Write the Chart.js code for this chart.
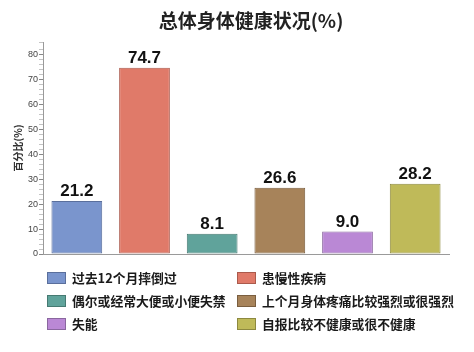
<!DOCTYPE html>
<html>
<head>
<meta charset="utf-8">
<script src="https://cdn.jsdelivr.net/npm/chart.js@4/dist/chart.umd.min.js"></script>
<style>
  html, body { margin: 0; padding: 0; background: #fff; }
  #chart { display: block; }
</style>
</head>
<body>
<canvas id="chart" width="474" height="352"></canvas>
<script>
const chartTitle = '总体身体健康状况(%)';
const yTitle = '百分比(%)';
const categories = ['过去12个月摔倒过', '患慢性疾病', '偶尔或经常大便或小便失禁', '上个月身体疼痛比较强烈或很强烈', '失能', '自报比较不健康或很不健康'];
const values = [21.2, 74.7, 8.1, 26.6, 9.0, 28.2];
const fillColours = ['#7a95cd', '#e07a69', '#60a39b', '#a7835a', '#ba88d5', '#bfba59'];
const borderColours = ['#5a6f9c', '#ab5a4c', '#467a72', '#7a5e3f', '#8a679f', '#8d893f'];

const cjk = '"Noto Sans CJK SC", "Noto Sans", sans-serif';
const latin = '"Liberation Sans", Arial, sans-serif';

// title centred over the plot rather than the canvas
const titlePlugin = {
    id: 'titleOverPlot',
    afterDraw(chart) {
        const ctx = chart.ctx;
        ctx.save();
        ctx.font = 'bold 19px ' + cjk;
        ctx.fillStyle = '#222';
        ctx.textAlign = 'center';
        ctx.textBaseline = 'middle';
        ctx.fillText(chartTitle, 251, 21);
        ctx.restore();
    },
};

const valueLabels = {
    id: 'valueLabels',
    afterDatasetsDraw(chart) {
        const ctx = chart.ctx;
        const meta = chart.getDatasetMeta(0);
        ctx.save();
        ctx.font = 'bold 17px ' + latin;
        ctx.fillStyle = '#111';
        ctx.textAlign = 'center';
        ctx.textBaseline = 'alphabetic';
        meta.data.forEach((bar, i) => {
            ctx.fillText(values[i].toFixed(1), bar.x, bar.y - 5);
        });
        ctx.restore();
    },
};

// two column legend under the plot
const gridLegend = {
    id: 'gridLegend',
    afterDraw(chart) {
        const ctx = chart.ctx;
        ctx.save();
        ctx.font = 'bold 12.8px ' + cjk;
        ctx.textBaseline = 'middle';
        ctx.textAlign = 'left';
        categories.forEach((name, i) => {
            let x = i % 2 === 0 ? 47 : 237;
            let y = 278 + Math.floor(i / 2) * 23;
            ctx.fillStyle = fillColours[i];
            ctx.fillRect(x, y - 6, 19, 12);
            ctx.strokeStyle = borderColours[i];
            ctx.lineWidth = 1;
            ctx.strokeRect(x + 0.5, y - 5.5, 18, 11);
            ctx.fillStyle = '#1a1a1a';
            ctx.fillText(name, x + 25, y);
        });
        ctx.restore();
    },
};

new Chart(document.getElementById('chart').getContext('2d'), {
    type: 'bar',
    data: {
        labels: categories,
        datasets: [
            {
                data: values,
                backgroundColor: fillColours,
                borderColor: borderColours,
                borderWidth: 1,
                borderSkipped: false,
                barPercentage: 0.75,
                categoryPercentage: 1,
            },
        ],
    },
    options: {
        responsive: false,
        animation: false,
        layout: { padding: { top: 42, right: 25, bottom: 98, left: 0 } },
        plugins: {
            legend: { display: false },
            title: { display: false },
            tooltip: { enabled: false },
        },
        scales: {
            x: {
                ticks: { display: false },
                grid: { display: false },
                border: { color: '#9a9a9a' },
                afterFit(scale) { scale.height = 0; },
            },
            y: {
                min: 0,
                max: 85,
                ticks: {
                    stepSize: 2,
                    autoSkip: false,
                    padding: 1,
                    color: '#444',
                    font: { family: latin, size: 9 },
                    callback: (v) => (v % 10 === 0 ? v : ''),
                },
                grid: {
                    drawOnChartArea: false,
                    tickLength: 4,
                    tickColor: (c) => (c.tick && c.tick.value % 10 === 0 ? '#888' : '#c4c4c4'),
                },
                border: { color: '#9a9a9a' },
                title: {
                    display: true,
                    text: yTitle,
                    color: '#333',
                    padding: { top: 12, bottom: 0 },
                    font: { family: cjk, size: 10, weight: 'bold' },
                },
                afterFit(scale) { scale.width = 43; },
            },
        },
    },
    plugins: [titlePlugin, valueLabels, gridLegend],
});
</script>
</body>
</html>
